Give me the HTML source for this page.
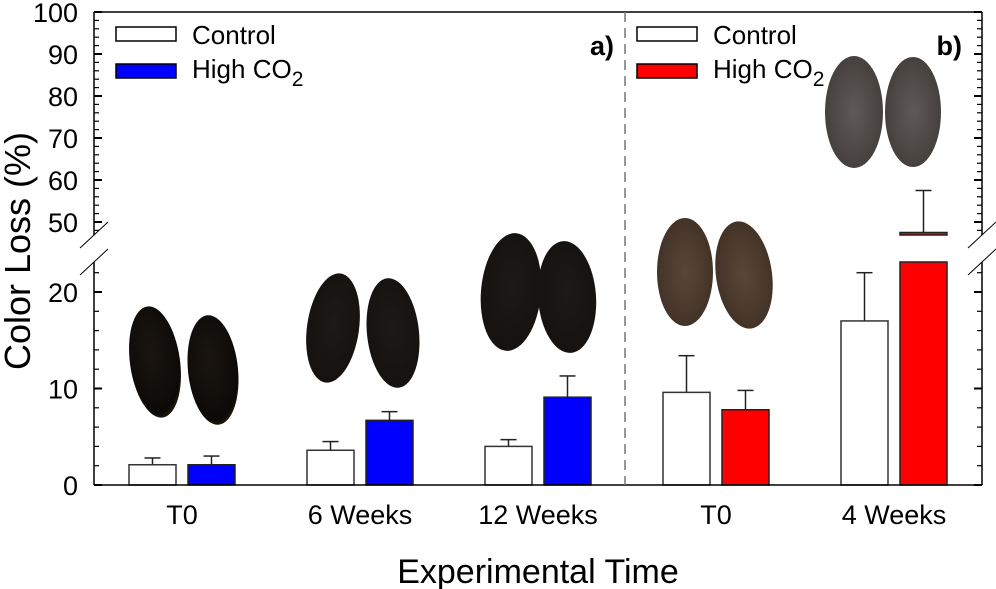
<!DOCTYPE html>
<html><head><meta charset="utf-8">
<style>
html,body{margin:0;padding:0;background:#fff;}
svg{display:block;font-family:"Liberation Sans",Arial,sans-serif;}
</style></head>
<body>
<svg id="chart" width="996" height="589" viewBox="0 0 996 589">
<defs>
<radialGradient id="gBlack" cx="0.45" cy="0.4" r="0.7"><stop offset="0" stop-color="#1a1510"/><stop offset="0.8" stop-color="#0c0a08"/><stop offset="1" stop-color="#4a3310"/></radialGradient>
<radialGradient id="gDark" cx="0.5" cy="0.45" r="0.7"><stop offset="0" stop-color="#1c1a18"/><stop offset="0.85" stop-color="#14110e"/><stop offset="1" stop-color="#6a4a20"/></radialGradient>
<radialGradient id="gBrown" cx="0.5" cy="0.5" r="0.7"><stop offset="0" stop-color="#5a4636"/><stop offset="1" stop-color="#3a2c22"/></radialGradient>
<radialGradient id="gGrey" cx="0.5" cy="0.5" r="0.7"><stop offset="0" stop-color="#5e5a58"/><stop offset="1" stop-color="#3d3633"/></radialGradient>
</defs>
<g id="photos"></g>
<g id="bars"></g>
<g id="axes"></g>
</svg>
<script>
const categories = ["T0", "6 Weeks", "12 Weeks", "T0", "4 Weeks"];
const controlValues = [2.1, 3.6, 4.0, 9.6, 17.0];
const controlErrors = [0.7, 0.9, 0.7, 3.8, 5.0];
const treatValues = [2.1, 6.7, 9.1, 7.8, 47.5];
const treatErrors = [0.9, 0.9, 2.2, 2.0, 10.0];
const treatColors = ["#0000ff", "#0000ff", "#0000ff", "#ff0000", "#ff0000"];
const lowerTicks = [0, 10, 20];
const upperTicks = [50, 60, 70, 80, 90, 100];

const NS = "http://www.w3.org/2000/svg";
const svg = document.getElementById("chart");
const gB = document.getElementById("bars");
const gA = document.getElementById("axes");
const gP = document.getElementById("photos");
function mk(tag, attrs, parent, text) {
  const e = document.createElementNS(NS, tag);
  for (const k in attrs) e.setAttribute(k, attrs[k]);
  if (text !== undefined) e.textContent = text;
  parent.appendChild(e);
  return e;
}
const X0 = 94, X1 = 982, YB = 485, LOW_TOP = 262, UP_BOT = 235, YT = 12;
const LOW_MAX = 23;
function yLow(v) { return YB - v * 9.65; }
function yUp(v) { return YT + (100 - v) * 4.2; }
function yVal(v) { return v <= LOW_MAX ? yLow(v) : yUp(v); }
function xCenter(i) { return 182 + i * 178; }
const BW = 47;

const shells = [
  [155,362,50,112,-8,"url(#gBlack)"],[213,370,50,110,-6,"url(#gBlack)"],
  [333,328,52,110,8,"url(#gDark)"],[393,333,52,110,-6,"url(#gDark)"],
  [511,292,60,118,5,"url(#gDark)"],[567,297,58,112,-4,"url(#gDark)"],
  [685,272,56,108,0,"url(#gBrown)"],[744,275,56,108,-8,"url(#gBrown)"],
  [854,112,58,112,0,"url(#gGrey)"],[913,112,56,110,0,"url(#gGrey)"]
];
shells.forEach((s) => {
  const e = mk("ellipse", {cx: s[0], cy: s[1], rx: s[2]/2, ry: s[3]/2, fill: s[5], transform: `rotate(${s[4]} ${s[0]} ${s[1]})`}, gP);
  
  
});

for (let i = 0; i < categories.length; i++) {
  const cx = xCenter(i);
  const xc = cx - 53, xt = cx + 6;
  const cy = yVal(controlValues[i]);
  let r = mk("rect", {x: xc, y: cy, width: BW, height: YB - cy, fill: "#fff", stroke: "#333", "stroke-width": 1.5}, gB);
  
  
  const ce = yVal(controlValues[i] + controlErrors[i]);
  mk("line", {x1: xc + BW/2, x2: xc + BW/2, y1: cy, y2: ce, stroke: "#222", "stroke-width": 1.5}, gB);
  mk("line", {x1: xc + BW/2 - 8, x2: xc + BW/2 + 8, y1: ce, y2: ce, stroke: "#222", "stroke-width": 1.5}, gB);
  const tv = treatValues[i];
  const col = treatColors[i];
  if (tv <= LOW_MAX) {
    const ty = yLow(tv);
    r = mk("rect", {x: xt, y: ty, width: BW, height: YB - ty, fill: col, stroke: "#222", "stroke-width": 1.5}, gB);
  } else {
    r = mk("rect", {x: xt, y: LOW_TOP, width: BW, height: YB - LOW_TOP, fill: col, stroke: "#222", "stroke-width": 1.5}, gB);
    const ty = yUp(tv);
    mk("rect", {x: xt, y: ty, width: BW, height: Math.max(UP_BOT - ty, 2), fill: col, stroke: "#222", "stroke-width": 1.5}, gB);
  }
  
  
  const ty2 = yVal(tv);
  const te = yVal(tv + treatErrors[i]);
  mk("line", {x1: xt + BW/2, x2: xt + BW/2, y1: ty2, y2: te, stroke: "#222", "stroke-width": 1.5}, gB);
  mk("line", {x1: xt + BW/2 - 8, x2: xt + BW/2 + 8, y1: te, y2: te, stroke: "#222", "stroke-width": 1.5}, gB);
  const lbl = mk("text", {x: cx, y: 524, "font-size": 27, "text-anchor": "middle", fill: "#000"}, gA, categories[i]);
  
  
}

const ax = {stroke: "#000", "stroke-width": 1.5, fill: "none"};
mk("line", Object.assign({x1: X0, x2: X1, y1: YT, y2: YT}, ax), gA);
mk("line", Object.assign({x1: X0, x2: X1, y1: YB, y2: YB}, ax), gA);
[X0, X1].forEach((x, side) => {
  mk("line", Object.assign({x1: x, x2: x, y1: YT, y2: UP_BOT}, ax), gA);
  mk("line", Object.assign({x1: x, x2: x, y1: LOW_TOP, y2: YB}, ax), gA);
  mk("line", {x1: x - 14, y1: UP_BOT + 13, x2: x + 14, y2: UP_BOT - 13, stroke: "#000", "stroke-width": 1}, gA);
  mk("line", {x1: x - 14, y1: LOW_TOP + 13, x2: x + 14, y2: LOW_TOP - 13, stroke: "#000", "stroke-width": 1}, gA);
  const dir = side === 0 ? 1 : -1;
  for (let v = 0; v <= 22; v += 2) {
    const y = yLow(v); const len = v % 10 === 0 ? 8 : 5;
    mk("line", {x1: x, x2: x + dir * len, y1: y, y2: y, stroke: "#000", "stroke-width": v % 10 === 0 ? 2 : 1.2}, gA);
  }
  for (let v = 48; v <= 100; v += 2) {
    const y = yUp(v); const len = v % 10 === 0 ? 8 : 5;
    mk("line", {x1: x, x2: x + dir * len, y1: y, y2: y, stroke: "#000", "stroke-width": v % 10 === 0 ? 2 : 1.2}, gA);
  }
});
lowerTicks.forEach(v => {
  const t = mk("text", {x: 78, y: yLow(v) + 10, "font-size": 27, "text-anchor": "end"}, gA, String(v));
  
  
});
upperTicks.forEach(v => {
  const t = mk("text", {x: 78, y: yUp(v) + 10, "font-size": 27, "text-anchor": "end"}, gA, String(v));
  
  
});
mk("line", {x1: 625, x2: 625, y1: YT, y2: YB, stroke: "#777", "stroke-width": 1.5, "stroke-dasharray": "10,6"}, gA);
let t = mk("text", {x: 0, y: 0, "font-size": 36, "text-anchor": "middle", transform: "translate(30 251) rotate(-90)"}, gA, "Color Loss (%)");
 
t = mk("text", {x: 538, y: 583, "font-size": 34, "text-anchor": "middle"}, gA, "Experimental Time");
 
t = mk("text", {x: 614, y: 55, "font-size": 27, "font-weight": "bold", "text-anchor": "end"}, gA, "a)");
 
t = mk("text", {x: 962, y: 55, "font-size": 27, "font-weight": "bold", "text-anchor": "end"}, gA, "b)");
 
function legend(x0, col, nm) {
  let r = mk("rect", {x: x0, y: 27, width: 60, height: 14, fill: "#fff", stroke: "#000", "stroke-width": 1.5}, gA);
   
  let tx = mk("text", {x: x0 + 76, y: 44, "font-size": 26}, gA, "Control");
   
  r = mk("rect", {x: x0, y: 64, width: 60, height: 14, fill: col, stroke: "#000", "stroke-width": 1.5}, gA);
   
  tx = mk("text", {x: x0 + 76, y: 78, "font-size": 26}, gA, "High CO");
   
  mk("tspan", {dy: 8, "font-size": 21}, tx, "2");
}
legend(116, "#0000ff", "legend-a");
legend(637, "#ff0000", "legend-b");
</script>
</body></html>
